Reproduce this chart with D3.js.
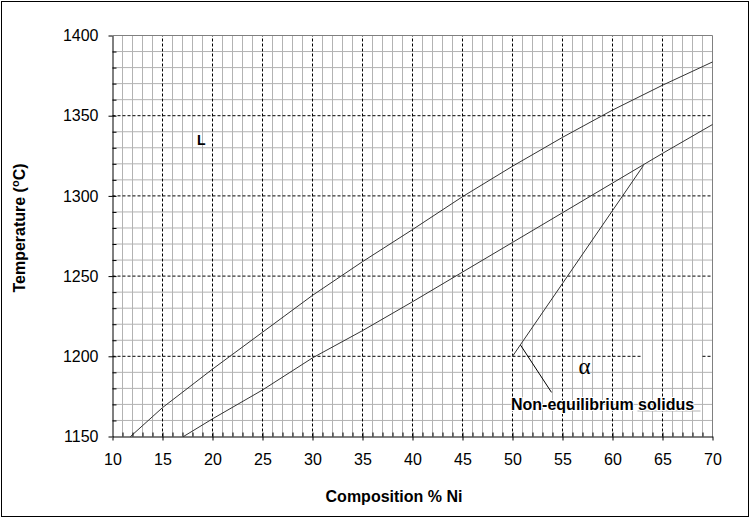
<!DOCTYPE html>
<html>
<head>
<meta charset="utf-8">
<script src="https://cdn.jsdelivr.net/npm/d3@7"></script>
<style>
  body { margin: 0; background: #fff; }
  svg { display: block; font-family: Arial, "Liberation Sans", sans-serif; }
</style>
</head>
<body>
<div id="chart"></div>
<script>
// liquidus (upper) and equilibrium solidus (lower)
const liquidusNi = [11.8, 15, 20, 25, 30, 35, 40, 45, 50, 55, 60, 65, 70];
const liquidusT  = [1150, 1168, 1192, 1215, 1238, 1259, 1279, 1299.5, 1318.5, 1336.5, 1353.5, 1369, 1383.5];
const solidusNi  = [17.1, 20, 25, 30, 35, 40, 45, 50, 55, 60, 65, 70];
const solidusT   = [1150, 1161, 1179, 1199, 1216, 1234, 1252.5, 1271, 1289.5, 1308, 1326.5, 1344.5];
// non-equilibrium solidus and its leader line
const nonEqNi = [50, 63.1];
const nonEqT  = [1200, 1319];
const leaderNi = [50.8, 53.9];
const leaderT  = [1207, 1177.5];
// tick labels
const xTicks = [10, 15, 20, 25, 30, 35, 40, 45, 50, 55, 60, 65, 70];
const yTicks = [1150, 1200, 1250, 1300, 1350, 1400];

const width = 753, height = 519;
const svg = d3.select("#chart").append("svg")
  .attr("width", width)
  .attr("height", height);

// outer frame
svg.append("rect")
  .attr("x", 1.5).attr("y", 1.5)
  .attr("width", 747).attr("height", 515)
  .attr("fill", "none").attr("stroke", "#000");

const x = d3.scaleLinear().domain([10, 70]).range([112.5, 712.5]);
const y = d3.scaleLinear().domain([1150, 1400]).range([436.5, 35.5]);

const grid = svg.append("g").attr("class", "grid");

// minor grid: every 1 % Ni, every 10 degC
grid.selectAll("line.vminor")
  .data(d3.range(11, 70).filter(v => v % 5 !== 0))
  .enter().append("line")
  .attr("x1", d => x(d)).attr("x2", d => x(d))
  .attr("y1", y(1150)).attr("y2", y(1400))
  .attr("stroke", "#b3b3b3");

grid.selectAll("line.hminor")
  .data(d3.range(1160, 1400, 10).filter(v => v % 50 !== 0))
  .enter().append("line")
  .attr("x1", x(10)).attr("x2", x(70))
  .attr("y1", d => y(d)).attr("y2", d => y(d))
  .attr("stroke", "#b3b3b3");

// major grid: dashed black
grid.selectAll("line.vmajor")
  .data(xTicks.filter(v => v > 10 && v < 70))
  .enter().append("line")
  .attr("x1", d => x(d)).attr("x2", d => x(d))
  .attr("y1", y(1150)).attr("y2", y(1400))
  .attr("stroke", "#000")
  .attr("stroke-dasharray", "3,2");

// the 1200 line has a break to the right of the alpha label
const hMajor = [
  { t: 1200, from: 10, to: 62.8 },
  { t: 1200, from: 69.0, to: 70 },
  { t: 1250, from: 10, to: 70 },
  { t: 1300, from: 10, to: 70 },
  { t: 1350, from: 10, to: 70 }
];
grid.selectAll("line.hmajor")
  .data(hMajor)
  .enter().append("line")
  .attr("x1", d => x(d.from)).attr("x2", d => x(d.to))
  .attr("y1", d => y(d.t)).attr("y2", d => y(d.t))
  .attr("stroke", "#000")
  .attr("stroke-dasharray", "3,2");

// plot area border (top/right in grey)
svg.append("path")
  .attr("d", `M${x(10)},${y(1400)}H${x(70)}V${y(1150)}`)
  .attr("fill", "none")
  .attr("stroke", "#808080");

// curves
const line = d3.line().x(d => x(d[0])).y(d => y(d[1]));
const curves = [
  d3.zip(liquidusNi, liquidusT),
  d3.zip(solidusNi, solidusT),
  d3.zip(nonEqNi, nonEqT)
];
svg.append("g").selectAll("path")
  .data(curves)
  .enter().append("path")
  .attr("d", line)
  .attr("fill", "none")
  .attr("stroke", "#333")
  .attr("stroke-width", 1);

svg.append("path")
  .attr("d", line(d3.zip(leaderNi, leaderT)))
  .attr("fill", "none")
  .attr("stroke", "#000")
  .attr("stroke-width", 1);

// axes
svg.append("g")
  .attr("transform", `translate(0,${y(1150)})`)
  .call(d3.axisBottom(x).tickValues(xTicks).tickSize(4).tickSizeOuter(0).tickPadding(13));
svg.append("g")
  .attr("transform", `translate(0,${y(1150)})`)
  .call(d3.axisBottom(x).tickValues(d3.range(11, 70)).tickSize(-4).tickSizeOuter(0).tickFormat(""))
  .call(g => g.select(".domain").remove());

svg.append("g")
  .attr("transform", `translate(${x(10)},0)`)
  .call(d3.axisLeft(y).tickValues(yTicks).tickFormat(d3.format("d")).tickSize(4).tickSizeOuter(0).tickPadding(10));
svg.append("g")
  .attr("transform", `translate(${x(10)},0)`)
  .call(d3.axisLeft(y).tickValues(d3.range(1160, 1400, 10)).tickSize(-4).tickSizeOuter(0).tickFormat(""))
  .call(g => g.select(".domain").remove());

svg.selectAll(".tick text")
  .attr("font-size", 16)
  .attr("font-family", "Arial, 'Liberation Sans', sans-serif")
  .attr("fill", "#000");

// axis titles
svg.append("text")
  .attr("x", 394).attr("y", 502)
  .attr("text-anchor", "middle")
  .attr("font-size", 16).attr("font-weight", "bold")
  .text("Composition % Ni");

const yTitle = svg.append("text")
  .attr("transform", "translate(25,228) rotate(-90)")
  .attr("text-anchor", "middle")
  .attr("font-size", 16).attr("font-weight", "bold");
yTitle.append("tspan").text("Temperature (");
yTitle.append("tspan").attr("font-size", 11).attr("dy", -6).text("o");
yTitle.append("tspan").attr("dy", 6).text("C)");

// labels in the plot
svg.append("text")
  .attr("x", 197).attr("y", 145)
  .attr("font-size", 14).attr("font-weight", "bold")
  .text("L");

svg.append("text")
  .attr("x", 584.5).attr("y", 374)
  .attr("text-anchor", "middle")
  .attr("font-family", "'Liberation Serif', 'Times New Roman', serif")
  .attr("font-size", 23)
  .text("α");

svg.append("line")
  .attr("x1", x(62.5)).attr("x2", x(68.8))
  .attr("y1", 411).attr("y2", 411)
  .attr("stroke", "#b3b3b3");

svg.append("text")
  .attr("x", 511).attr("y", 410)
  .attr("font-size", 16).attr("font-weight", "bold")
  .attr("stroke", "#fff").attr("stroke-width", 2)
  .attr("paint-order", "stroke")
  .text("Non-equilibrium solidus");
</script>
</body>
</html>
